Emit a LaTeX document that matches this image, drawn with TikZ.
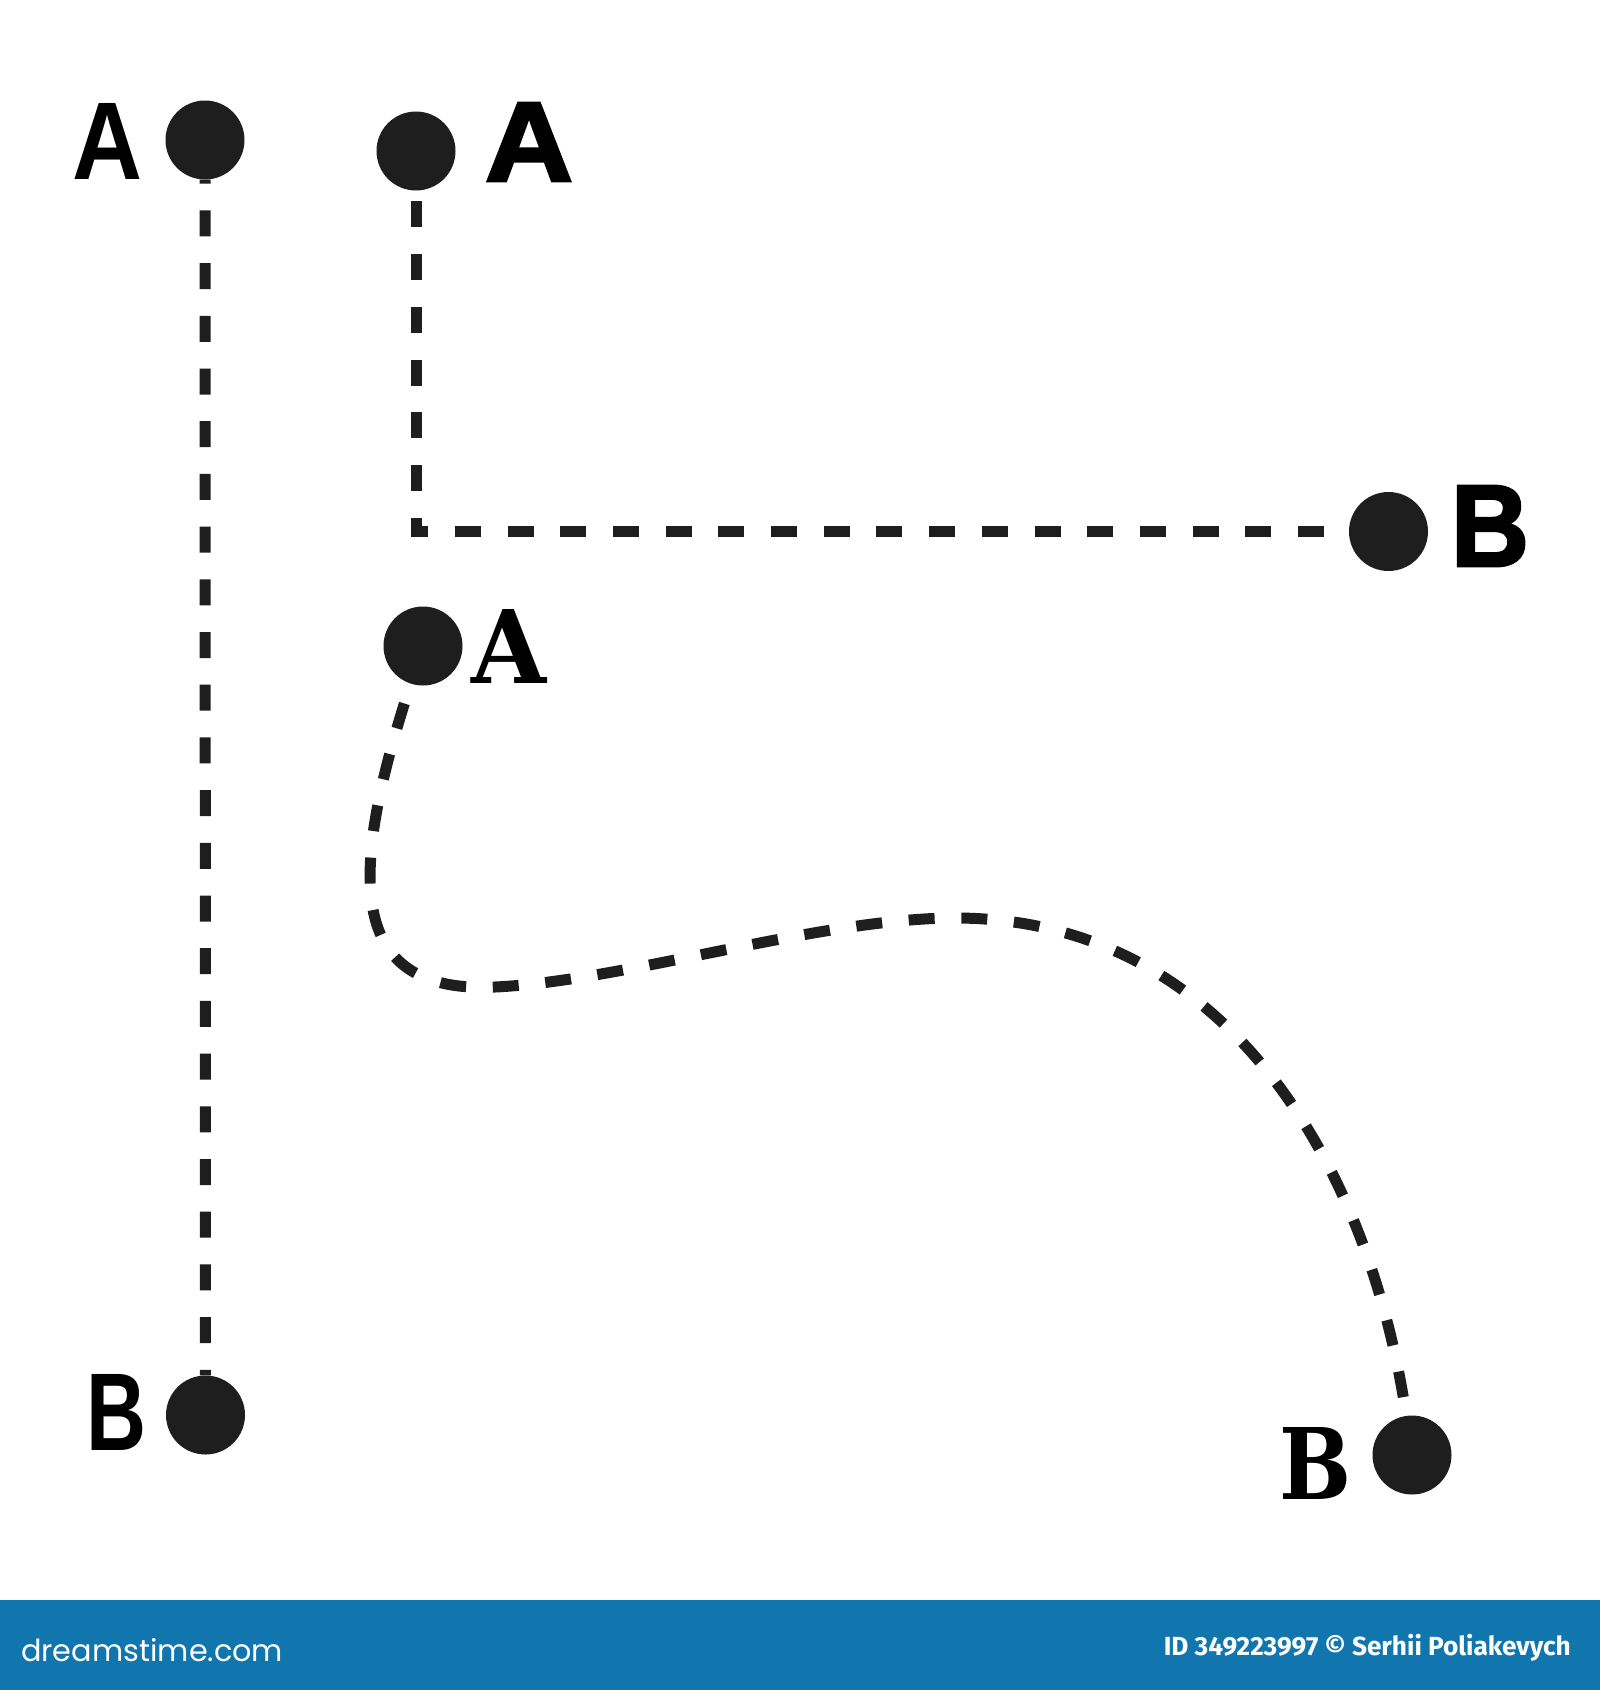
\documentclass[tikz,border=0pt]{standalone}
\usepackage{graphicx}
\usepackage{fontspec}
\setmainfont{Liberation Sans}
\newfontfamily\heavyfont{Liberation Sans}[BoldFeatures={FakeBold=2.5}]
\newfontfamily\slabfont{DejaVu Serif}
\newfontfamily\logofont{Poppins}
\newfontfamily\creditfont{Fira Sans}
\definecolor{dotgray}{RGB}{30,30,30}
\definecolor{bannerblue}{RGB}{17,118,174}
\begin{document}
\begin{tikzpicture}[x=1pt,y=-1pt,
  dot/.style={circle,fill=dotgray,inner sep=0pt,minimum size=79pt},
  lbl/.style={inner sep=0pt,text=black},
  dashline/.style={draw=dotgray,line width=11pt,dash pattern=on 26pt off 26.7pt}]
\useasboundingbox (0,0) rectangle (1600,1690);
\fill[white] (0,0) rectangle (1600,1690);
\fill[bannerblue] (0,1600) rectangle (1600,1690);
% dots
\node[dot] (a1) at (205,140) {};
\node[dot] (a2) at (416,151) {};
\node[dot] (b2) at (1388.5,531.5) {};
\node[dot] (a3) at (423,646) {};
\node[dot] (b1) at (205.5,1415) {};
\node[dot] (b3) at (1412,1455) {};
% labels
\node[lbl] (la1) at (108,141) {\resizebox{70pt}{76pt}{\bfseries A}};
\node[lbl] (la2) at (529,142) {\resizebox{88pt}{78pt}{\heavyfont\bfseries A}};
\node[lbl] (lb2) at (1490,526) {\resizebox{78pt}{80pt}{\heavyfont\bfseries B}};
\node[lbl] (la3) at (508.5,646) {\resizebox{75pt}{74pt}{\slabfont\bfseries A}};
\node[lbl] (lb1) at (117,1412) {\resizebox{60pt}{76pt}{\bfseries B}};
\node[lbl] (lb3) at (1316,1463) {\resizebox{72pt}{72pt}{\slabfont\bfseries B}};
% connectors
\draw[dashline,dash phase=22pt] (a1) -- (b1);
\draw[dashline,dash phase=42pt] (a2) |- (b2);
\draw[dashline,dash phase=32pt] (a3) .. controls (348,876) and (345,994) .. (495,987)
  .. controls (625,981) and (820,918) .. (955,918)
  .. controls (1230,918) and (1370,1170) .. (b3);
% banner text
\node[anchor=west,text=white,inner sep=0pt] (logo) at (21,1650) {\resizebox{262pt}{!}{\logofont dreamstime.com}};
\node[anchor=east,text=white,inner sep=0pt] (credit) at (1571,1648) {\resizebox{407pt}{!}{\creditfont\bfseries ID 349223997 © Serhii Poliakevych}};
\end{tikzpicture}
\end{document}
